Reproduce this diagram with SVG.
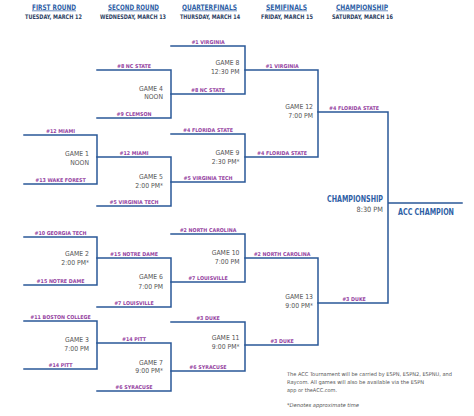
<svg xmlns="http://www.w3.org/2000/svg" width="474" height="416" viewBox="0 0 474 416">
<style>
.hd{font-family:'DejaVu Sans Condensed','DejaVu Sans',sans-serif;font-stretch:condensed;font-weight:bold;font-size:7.5px;fill:#2f5fa6;text-anchor:middle}
.dt{font-family:'DejaVu Sans Condensed','DejaVu Sans',sans-serif;font-stretch:condensed;font-weight:bold;font-size:6.3px;fill:#2c3e62;text-anchor:middle}
.ul{stroke:#2f5fa6;stroke-width:0.7}
.tm{font-family:'DejaVu Sans Condensed','DejaVu Sans',sans-serif;font-stretch:condensed;font-weight:bold;font-size:5.3px;fill:#95429f;text-anchor:middle}
.gm{font-family:'DejaVu Sans Condensed','DejaVu Sans',sans-serif;font-stretch:condensed;font-size:6.8px;fill:#555;text-anchor:end}
.ln{stroke:#2a5898;stroke-width:1.5;fill:none;stroke-linecap:square}
.big{font-family:'DejaVu Sans Condensed','DejaVu Sans',sans-serif;font-stretch:condensed;font-weight:bold;font-size:8.3px;fill:#2f5fa6}
.ft{font-family:'DejaVu Sans Condensed','DejaVu Sans',sans-serif;font-stretch:condensed;font-size:5.3px;fill:#555}
</style>
<rect width="474" height="416" fill="#fff"/>
<g id="headers">
<text class="hd" x="54" y="9.5" textLength="44" lengthAdjust="spacingAndGlyphs">FIRST ROUND</text>
<line class="ul" x1="32" y1="10.8" x2="76" y2="10.8"/>
<text class="dt" x="53.5" y="19" textLength="57" lengthAdjust="spacingAndGlyphs">TUESDAY, MARCH 12</text>
<text class="hd" x="133.5" y="9.5" textLength="51" lengthAdjust="spacingAndGlyphs">SECOND ROUND</text>
<line class="ul" x1="108" y1="10.8" x2="159" y2="10.8"/>
<text class="dt" x="133" y="19" textLength="66" lengthAdjust="spacingAndGlyphs">WEDNESDAY, MARCH 13</text>
<text class="hd" x="209.5" y="9.5" textLength="55" lengthAdjust="spacingAndGlyphs">QUARTERFINALS</text>
<line class="ul" x1="182" y1="10.8" x2="237" y2="10.8"/>
<text class="dt" x="210" y="19" textLength="60" lengthAdjust="spacingAndGlyphs">THURSDAY, MARCH 14</text>
<text class="hd" x="286.5" y="9.5" textLength="41" lengthAdjust="spacingAndGlyphs">SEMIFINALS</text>
<line class="ul" x1="266" y1="10.8" x2="307" y2="10.8"/>
<text class="dt" x="287" y="19" textLength="52" lengthAdjust="spacingAndGlyphs">FRIDAY, MARCH 15</text>
<text class="hd" x="362" y="9.5" textLength="52" lengthAdjust="spacingAndGlyphs">CHAMPIONSHIP</text>
<line class="ul" x1="336" y1="10.8" x2="388" y2="10.8"/>
<text class="dt" x="362.5" y="19" textLength="61" lengthAdjust="spacingAndGlyphs">SATURDAY, MARCH 16</text>
</g>
<g id="connectors">
<path class="ln" d="M24 135H97V184H24M24 237H97V285H24M24 321H97V369H24"/>
<path class="ln" d="M97 70H171V118H97M97 157H171V206H97M97 258H171V307H97M97 343H171V391H97"/>
<path class="ln" d="M171 46H245V94H171M171 134H245V182H171M171 234H245V282H171M171 322H245V371H171"/>
<path class="ln" d="M245 70H318V157H245M245 258H318V345H245"/>
<path class="ln" d="M318 112H388V303H318M388 203H462"/>
</g>
<g id="teams">
<text class="tm" x="60.5" y="133">#12 MIAMI</text>
<text class="tm" x="60.5" y="182">#13 WAKE FOREST</text>
<text class="tm" x="60.5" y="235">#10 GEORGIA TECH</text>
<text class="tm" x="60.5" y="283">#15 NOTRE DAME</text>
<text class="tm" x="60.5" y="319">#11 BOSTON COLLEGE</text>
<text class="tm" x="60.5" y="367">#14 PITT</text>
<text class="tm" x="134" y="68">#8 NC STATE</text>
<text class="tm" x="134" y="116">#9 CLEMSON</text>
<text class="tm" x="134" y="155">#12 MIAMI</text>
<text class="tm" x="134" y="204">#5 VIRGINIA TECH</text>
<text class="tm" x="134" y="256">#15 NOTRE DAME</text>
<text class="tm" x="134" y="305">#7 LOUISVILLE</text>
<text class="tm" x="134" y="341">#14 PITT</text>
<text class="tm" x="134" y="389">#6 SYRACUSE</text>
<text class="tm" x="208" y="44">#1 VIRGINIA</text>
<text class="tm" x="208" y="92">#8 NC STATE</text>
<text class="tm" x="208" y="132">#4 FLORIDA STATE</text>
<text class="tm" x="208" y="180">#5 VIRGINIA TECH</text>
<text class="tm" x="208" y="232">#2 NORTH CAROLINA</text>
<text class="tm" x="208" y="280">#7 LOUISVILLE</text>
<text class="tm" x="208" y="320">#3 DUKE</text>
<text class="tm" x="208" y="369">#6 SYRACUSE</text>
<text class="tm" x="282" y="68">#1 VIRGINIA</text>
<text class="tm" x="282" y="155">#4 FLORIDA STATE</text>
<text class="tm" x="282" y="256">#2 NORTH CAROLINA</text>
<text class="tm" x="282" y="343">#3 DUKE</text>
<text class="tm" x="354" y="110">#4 FLORIDA STATE</text>
<text class="tm" x="354" y="301">#3 DUKE</text>
</g>
<g id="games">
<text class="gm" x="89" y="156">GAME 1</text><text class="gm" x="89" y="165">NOON</text>
<text class="gm" x="89" y="256">GAME 2</text><text class="gm" x="89" y="264.7">2:00 PM*</text>
<text class="gm" x="89" y="342">GAME 3</text><text class="gm" x="89" y="351">7:00 PM</text>
<text class="gm" x="163" y="90.7">GAME 4</text><text class="gm" x="163" y="99.3">NOON</text>
<text class="gm" x="163" y="178.7">GAME 5</text><text class="gm" x="163" y="188">2:00 PM*</text>
<text class="gm" x="163" y="279.3">GAME 6</text><text class="gm" x="163" y="288.7">7:00 PM</text>
<text class="gm" x="163" y="364.7">GAME 7</text><text class="gm" x="163" y="373.3">9:00 PM*</text>
<text class="gm" x="239.5" y="65">GAME 8</text><text class="gm" x="239.5" y="74.3">12:30 PM</text>
<text class="gm" x="239.5" y="155">GAME 9</text><text class="gm" x="239.5" y="164.3">2:30 PM*</text>
<text class="gm" x="239.5" y="255.3">GAME 10</text><text class="gm" x="239.5" y="264.3">7:00 PM</text>
<text class="gm" x="239.5" y="340">GAME 11</text><text class="gm" x="239.5" y="349.3">9:00 PM*</text>
<text class="gm" x="313" y="109">GAME 12</text><text class="gm" x="313" y="118.3">7:00 PM</text>
<text class="gm" x="313" y="298.7">GAME 13</text><text class="gm" x="313" y="307.7">9:00 PM*</text>
</g>
<g id="championship">
<text class="big" x="383" y="202" text-anchor="end" textLength="56" lengthAdjust="spacingAndGlyphs">CHAMPIONSHIP</text>
<text class="gm" x="383" y="212" style="font-size:7.3px">8:30 PM</text>
<text class="big" x="426" y="214.7" text-anchor="middle" textLength="56" lengthAdjust="spacingAndGlyphs">ACC CHAMPION</text>
</g>
<g id="footnote">
<text class="ft" x="287" y="376" textLength="165" lengthAdjust="spacingAndGlyphs">The ACC Tournament will be carried by ESPN, ESPN2, ESPNU, and</text>
<text class="ft" x="287" y="384" textLength="137" lengthAdjust="spacingAndGlyphs">Raycom. All games will also be available via the ESPN</text>
<text class="ft" x="287" y="392" textLength="50" lengthAdjust="spacingAndGlyphs">app or theACC.com.</text>
<text class="ft" x="287" y="407" font-style="italic" textLength="72" lengthAdjust="spacingAndGlyphs">*Denotes approximate time</text>
</g>
</svg>
